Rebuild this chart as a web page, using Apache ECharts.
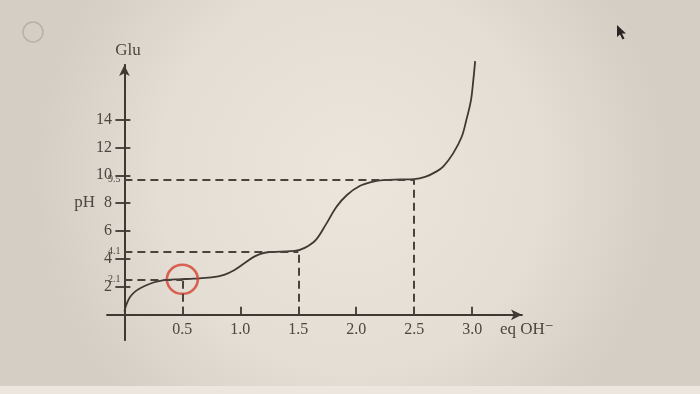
<!DOCTYPE html>
<html>
<head>
<meta charset="utf-8">
<script src="https://cdn.jsdelivr.net/npm/echarts@6/dist/echarts.min.js"></script>
<style>
html,body{margin:0;padding:0;background:#e6dfd5;}
#chart{width:700px;height:394px;}
</style>
</head>
<body>
<div id="chart"></div>
<script>
// Titration curve of glutamic acid
const eqValues = [0.00, 0.02, 0.05, 0.10, 0.17, 0.25, 0.32, 0.46, 0.60, 0.75, 0.86, 0.95, 1.035, 1.12, 1.21, 1.35, 1.47, 1.56, 1.65, 1.74, 1.83, 1.92, 2.03, 2.145, 2.23, 2.38, 2.50, 2.60, 2.69, 2.75, 2.836, 2.91, 2.95, 2.99, 3.01, 3.026];
const phValues = [0.25, 0.80, 1.30, 1.72, 2.05, 2.32, 2.46, 2.55, 2.59, 2.68, 2.87, 3.22, 3.70, 4.17, 4.45, 4.53, 4.58, 4.82, 5.35, 6.50, 7.75, 8.59, 9.23, 9.54, 9.66, 9.70, 9.72, 9.90, 10.26, 10.62, 11.57, 12.76, 13.96, 15.39, 16.82, 18.18];

const xTickValues = [0.5, 1.0, 1.5, 2.0, 2.5, 3.0];
const xTickLabels = ['0.5', '1.0', '1.5', '2.0', '2.5', '3.0'];
const yTickValues = [2, 4, 6, 8, 10, 12, 14];
const yTickLabels = ['2', '4', '6', '8', '10', '12', '14'];

const pkaEq = [0.5, 1.5, 2.5];
const pkaLevels = [2.55, 4.52, 9.68];
const pkaLabels = ['2.1', '4.1', '9.5'];
const circledIndex = 0;

const ink = '#3f3833';
const textCol = '#4d4640';
const serif = 'Liberation Serif, DejaVu Serif, serif';

const curve = eqValues.map((x, i) => [x, phValues[i]]);

const dashH = pkaEq.map((x, i) => [
  { coord: [0, pkaLevels[i]], label: { show: true, formatter: pkaLabels[i] } },
  { coord: [x, pkaLevels[i]] }
]);
const dashV = pkaEq.map((x, i) => [
  { coord: [x, 0], label: { show: false } },
  { coord: [x, pkaLevels[i]] }
]);

const X_MIN = -0.15, X_MAX = 3.43, Y_MIN = -1.8, Y_MAX = 17.9;

const chart = echarts.init(document.getElementById('chart'), null, { renderer: 'canvas' });
chart.setOption({
  animation: false,
  backgroundColor: {
    type: 'radial', x: 0.5, y: 0.45, r: 0.8,
    colorStops: [
      { offset: 0, color: '#ebe5dc' },
      { offset: 0.6, color: '#e5ded4' },
      { offset: 1, color: '#d5cec4' }
    ]
  },
  grid: { left: 107, right: 178, top: 65, bottom: 54 },
  xAxis: [
    {
      type: 'value', min: X_MIN, max: X_MAX,
      axisLine: { onZero: true, symbol: ['none', 'arrow'], symbolSize: [8, 11], lineStyle: { color: ink, width: 1.8 } },
      axisTick: { show: true, inside: true, length: 8, customValues: xTickValues, lineStyle: { color: ink, width: 1.8 } },
      axisLabel: {
        customValues: xTickValues, margin: -18, fontFamily: serif, fontSize: 16, color: textCol,
        formatter: v => xTickLabels[xTickValues.indexOf(v)]
      },
      splitLine: { show: false },
      name: 'eq OH\u207B', nameLocation: 'end', nameGap: -22,
      nameTextStyle: { fontFamily: serif, fontSize: 17, color: textCol, align: 'left', verticalAlign: 'top', padding: [6, 0, 0, 0] }
    },
    {
      type: 'value', min: X_MIN, max: X_MAX, show: false
    }
  ],
  yAxis: [
    {
      type: 'value', min: Y_MIN, max: Y_MAX,
      axisLine: { onZero: true, symbol: ['none', 'arrow'], symbolSize: [8, 11], lineStyle: { color: ink, width: 1.8 } },
      axisTick: { show: true, inside: false, length: 9, customValues: yTickValues, lineStyle: { color: ink, width: 1.8 } },
      axisLabel: {
        customValues: yTickValues, margin: -5, fontFamily: serif, fontSize: 16, color: textCol,
        formatter: v => yTickLabels[yTickValues.indexOf(v)]
      },
      splitLine: { show: false },
      name: 'Glu', nameLocation: 'end', nameGap: 6,
      nameTextStyle: { fontFamily: serif, fontSize: 17, color: textCol, padding: [0, 0, 0, 7] }
    },
    {
      type: 'value', min: Y_MIN, max: Y_MAX, position: 'left',
      axisLine: { onZero: true, onZeroAxisIndex: 1, lineStyle: { color: ink, width: 1.8 } },
      axisTick: { show: true, inside: true, length: 6, customValues: yTickValues, lineStyle: { color: ink, width: 1.8 } },
      axisLabel: { show: false },
      splitLine: { show: false },
      name: 'pH', nameLocation: 'middle', nameRotate: 0, nameGap: 12,
      nameTextStyle: { fontFamily: serif, fontSize: 17, color: textCol, padding: [6, 0, 0, 0] }
    }
  ],
  series: [
    {
      type: 'line', data: curve, showSymbol: false, smooth: 0.35, clip: false,
      lineStyle: { color: ink, width: 1.8 },
      markLine: {
        silent: true, symbol: ['none', 'none'], animation: false,
        lineStyle: { color: '#4a433d', width: 2, type: [8, 5] },
        label: { position: 'start', distance: 4, fontFamily: serif, fontSize: 10, color: textCol },
        data: dashH.concat(dashV)
      },
      z: 3
    },
    {
      type: 'scatter', data: [[pkaEq[circledIndex], pkaLevels[circledIndex]]],
      symbol: 'circle', symbolSize: [31, 29], silent: true,
      itemStyle: { color: 'rgba(0,0,0,0)', borderColor: '#d4412f', borderWidth: 2.6 },
      z: 4
    }
  ],
  graphic: [
    { type: 'rect', shape: { x: 0, y: 386, width: 700, height: 8 }, style: { fill: '#ece6de' }, silent: true },
    { type: 'circle', shape: { cx: 33, cy: 32, r: 10 }, style: { fill: 'none', stroke: '#b7b0a7', lineWidth: 1.5 }, silent: true },
    { type: 'polygon', shape: { points: [[617, 25], [617, 37], [620, 34.5], [622.5, 39.5], [624.5, 38.5], [622, 33.5], [626, 33.5]] }, style: { fill: '#2a2624' }, silent: true }
  ]
});
</script>
</body>
</html>
